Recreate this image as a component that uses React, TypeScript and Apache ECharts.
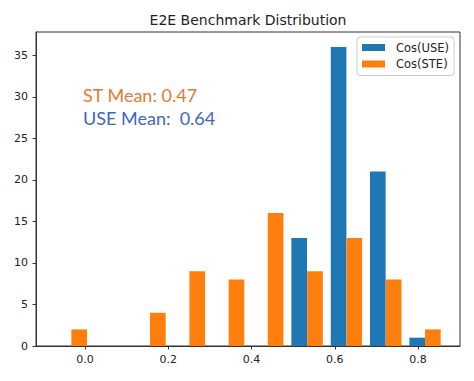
import React, { useEffect, useRef } from "react";
import * as echarts from "echarts";

// Histogram bin edges (10 bins)
const binEdges = [-0.080, 0.014, 0.109, 0.203, 0.298, 0.392, 0.486, 0.581, 0.675, 0.770, 0.864];
const useCounts = [0, 0, 0, 0, 0, 0, 13, 36, 21, 1];
const steCounts = [2, 0, 4, 9, 8, 16, 9, 13, 8, 2];
const seriesNames = ["Cos(USE)", "Cos(STE)"];
const xTicks = [0.0, 0.2, 0.4, 0.6, 0.8];
const yTicks = [0, 5, 10, 15, 20, 25, 30, 35];
const annotations = ["ST Mean: 0.47", "USE Mean:  0.64"];
const titleText = "E2E Benchmark Distribution";

const X_MIN = -0.118;
const X_MAX = 0.901;
const Y_MAX = 37.8;
const GRID = { left: 36, right: 14, top: 32, bottom: 35 };
const W = 474;
const H = 381;

export default function App() {
  const ref = useRef<HTMLDivElement>(null);
  useEffect(() => {
    if (!ref.current) return;
    const chart = echarts.init(ref.current, undefined, { renderer: "svg" });
    const plotW = W - GRID.left - GRID.right;
    const pxPerUnit = plotW / (X_MAX - X_MIN);
    const binW = binEdges[1] - binEdges[0];
    const barW = binW * 0.4 * pxPerUnit;
    const mk = (counts: number[], frac: number) =>
      counts.map((c, i) => {
        const bw = binEdges[i + 1] - binEdges[i];
        return [binEdges[i] + frac * bw, c];
      });
    const axisColor = "#333";
    chart.setOption({
      animation: false,
      grid: { ...GRID, show: true, borderColor: axisColor, borderWidth: 1, backgroundColor: "transparent" },
      xAxis: {
        type: "value",
        min: X_MIN,
        max: X_MAX,
        splitLine: { show: false },
        axisLine: { show: true, onZero: false, lineStyle: { color: axisColor, width: 1 } },
        axisTick: { show: true, length: 3.5, lineStyle: { color: axisColor }, customValues: xTicks },
        axisLabel: {
          customValues: xTicks,
          formatter: (v: number) => v.toFixed(1),
          color: "#222",
          fontFamily: "DejaVu Sans",
          fontSize: 11,
          margin: 8,
        },
      },
      yAxis: {
        type: "value",
        min: 0,
        max: Y_MAX,
        splitLine: { show: false },
        axisLine: { show: true, onZero: false, lineStyle: { color: axisColor, width: 1 } },
        axisTick: { show: true, length: 3.5, lineStyle: { color: axisColor }, customValues: yTicks },
        axisLabel: {
          customValues: yTicks,
          color: "#222",
          fontFamily: "DejaVu Sans",
          fontSize: 11,
          margin: 8,
        },
      },
      legend: {
        orient: "vertical",
        left: 357,
        top: 37,
        padding: [4, 5, 5, 5],
        itemGap: 3.5,
        itemWidth: 23,
        itemHeight: 7,
        icon: "rect",
        borderColor: "#cccccc",
        borderWidth: 1,
        borderRadius: 3,
        backgroundColor: "rgba(255,255,255,0.8)",
        textStyle: {
          fontFamily: "DejaVu Sans",
          fontSize: 11.5,
          color: "#222",
          lineHeight: 13,
          padding: [0, 0, 0, 6],
        },
        data: seriesNames,
      },
      graphic: [
        {
          type: "text",
          x: 248,
          y: 20,
          style: {
            text: titleText,
            align: "center",
            verticalAlign: "middle",
            font: "14px 'DejaVu Sans'",
            fill: "#222",
          },
        },
        {
          type: "text",
          x: 83,
          y: 95,
          style: {
            text: annotations[0],
            align: "left",
            verticalAlign: "middle",
            font: "18px Lato",
            fill: "#e07b34",
          },
        },
        {
          type: "text",
          x: 83,
          y: 118,
          style: {
            text: annotations[1],
            align: "left",
            verticalAlign: "middle",
            font: "18px Lato",
            fill: "#3b68c0",
          },
        },
      ],
      series: [
        {
          name: seriesNames[0],
          type: "bar",
          data: mk(useCounts, 0.3),
          barWidth: barW,
          barGap: "-100%",
          itemStyle: { color: "#1f77b4" },
        },
        {
          name: seriesNames[1],
          type: "bar",
          data: mk(steCounts, 0.7),
          barWidth: barW,
          barGap: "-100%",
          itemStyle: { color: "#ff7f0e" },
        },
      ],
    });
    return () => chart.dispose();
  }, []);
  return <div ref={ref} style={{ width: W, height: H, position: "absolute", left: 0, top: 0 }} />;
}
